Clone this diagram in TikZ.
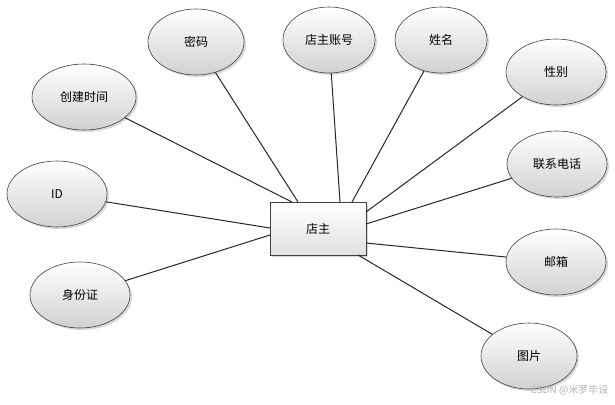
\documentclass[tikz,border=0pt]{standalone}
\usepackage{fontspec}
\setmainfont{Noto Sans CJK SC}
\usetikzlibrary{shapes.geometric,shadows}
\begin{document}
\begin{tikzpicture}[x=1pt,y=-1pt,
  attr/.style={ellipse,draw=black!75,line width=0.6pt,top color=white,bottom color=black!18,
    drop shadow={shadow xshift=2pt,shadow yshift=-2pt,opacity=0.3},
    minimum width=2*#1,minimum height=66,inner sep=0pt,font=\fontsize{12}{14}\selectfont},
  attr/.default=50,
  ent/.style={rectangle,draw=black!75,line width=0.6pt,top color=white,bottom color=black!12,
    drop shadow={shadow xshift=2pt,shadow yshift=-2pt,opacity=0.3},
    minimum width=96,minimum height=53,inner sep=0pt,font=\fontsize{12}{14}\selectfont},
  link/.style={draw=black!85,line width=1pt}]
\useasboundingbox (0,0) rectangle (615,404);
\node[ent] (m) at (318,228.5) {店主};
\node[attr=48] (a1) at (196,42) {密码};
\node[attr=46] (a2) at (329,40) {店主账号};
\node[attr=46] (a3) at (441,40) {姓名};
\node[attr] (a4) at (556,72) {性别};
\node[attr=52] (a5) at (84,97) {创建时间};
\node[attr] (a6) at (557,164) {联系电话};
\node[attr] (a7) at (57,194) {ID};
\node[attr] (a8) at (556,262) {邮箱};
\node[attr] (a9) at (80,295) {身份证};
\node[attr=48] (a10) at (529,356) {图片};
\coordinate (p1) at (298,202);
\coordinate (p2) at (340,202);
\coordinate (p3) at (352,202);
\coordinate (p4) at (366,212);
\coordinate (p5) at (292,202);
\coordinate (p6) at (366,224);
\coordinate (p7) at (270,228);
\coordinate (p8) at (366,243);
\coordinate (p9) at (270,235);
\coordinate (p10) at (358,255);
\foreach \i in {1,...,10} \draw[link] (a\i) -- (p\i);
\node[text=black!30,font=\fontsize{10}{11}\selectfont,anchor=east] (wm) at (612,390) {CSDN @米罗毕设};
\end{tikzpicture}
\end{document}
